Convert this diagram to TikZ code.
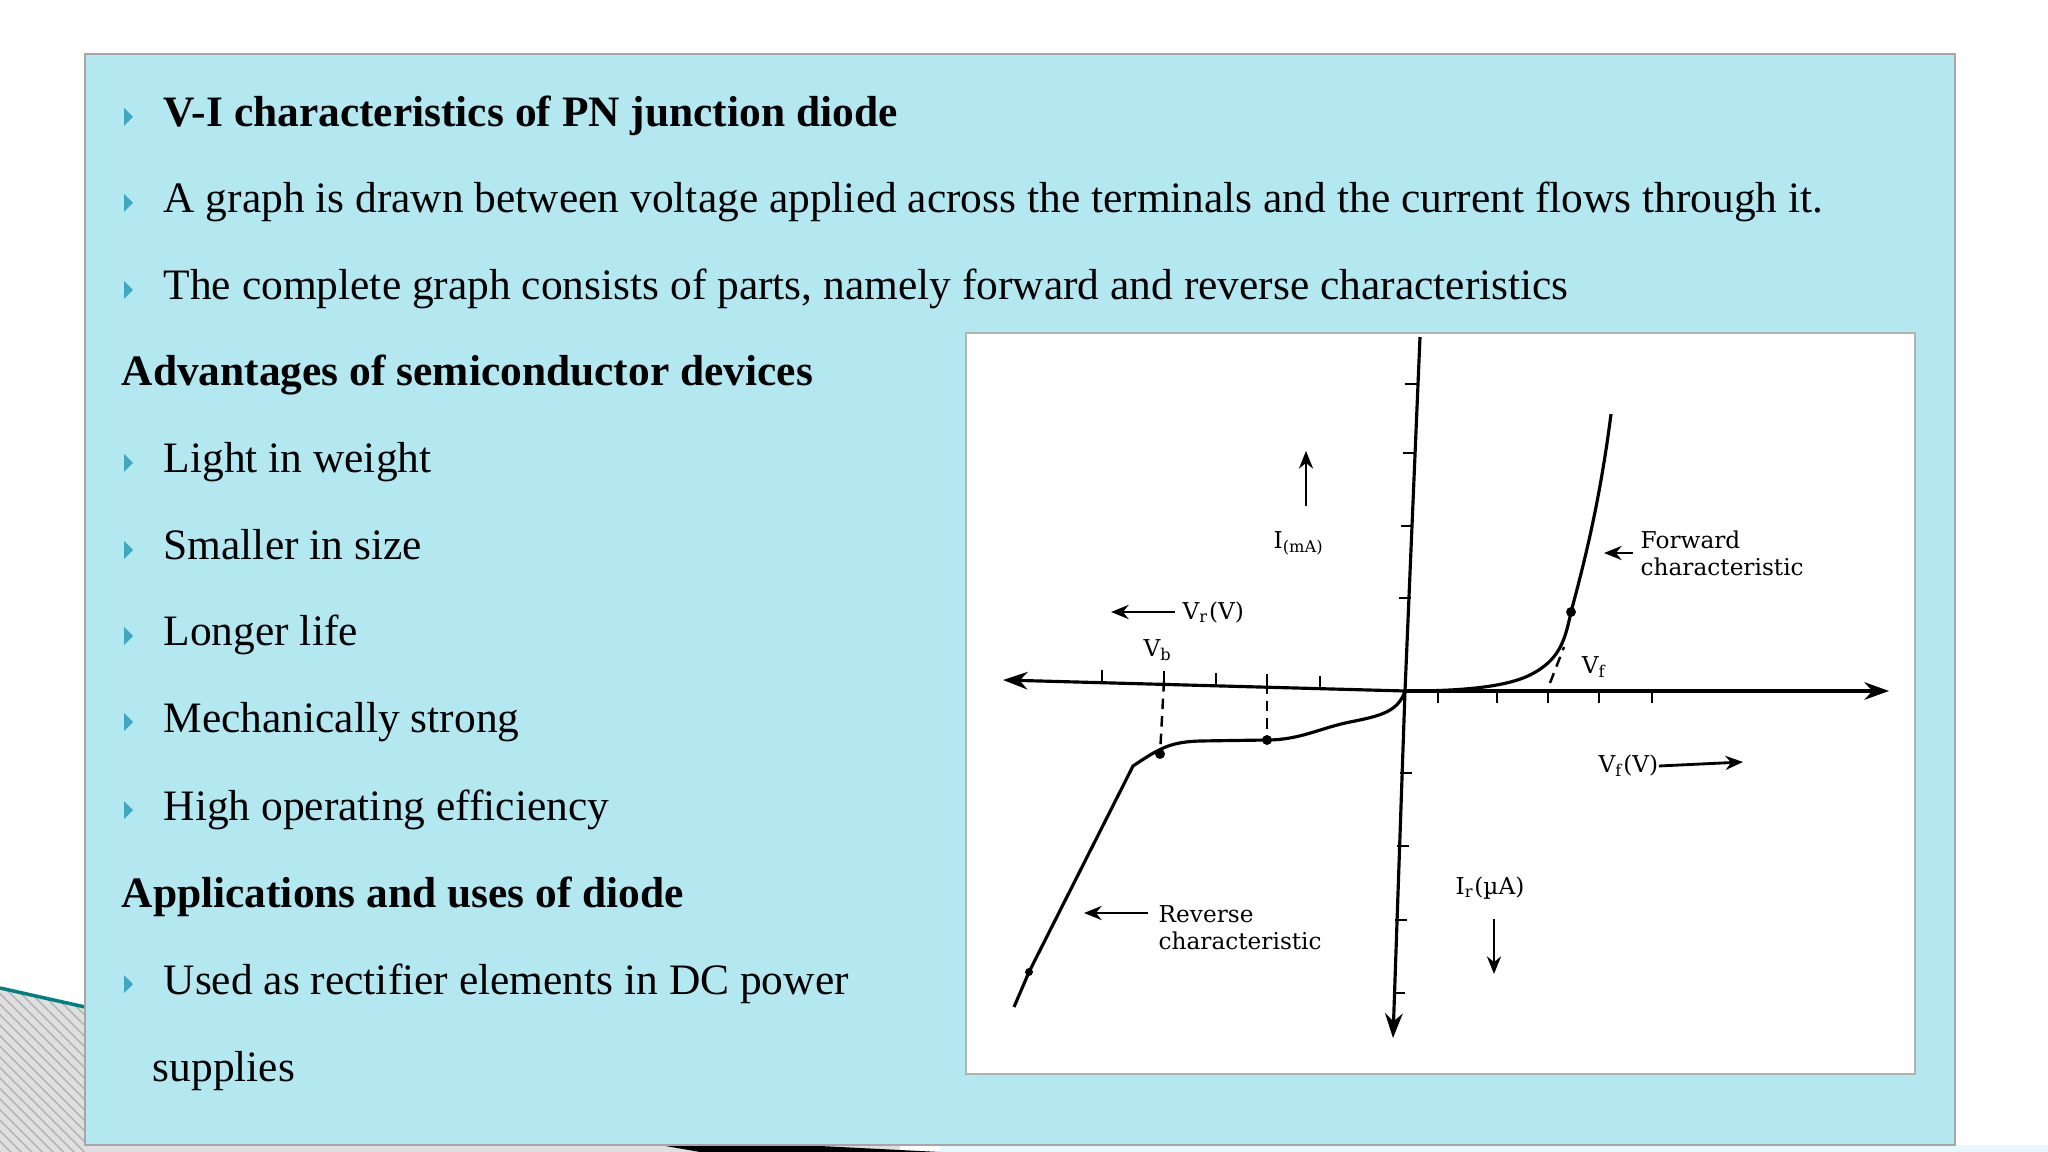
\documentclass[tikz,border=0pt]{standalone}
\usepackage{fontspec}
\setmainfont{Liberation Serif}
\newfontfamily\gfont{DejaVu Serif}
\usetikzlibrary{arrows.meta,patterns}
\definecolor{slidebg}{HTML}{B4E8F1}
\definecolor{bul}{HTML}{3FA7C0}
\tikzset{
 txt/.style={anchor=base west,inner sep=0pt,font=\fontsize{12.35pt}{14pt}\selectfont},
 htxt/.style={txt,font=\fontsize{12.35pt}{14pt}\selectfont\bfseries},
 glab/.style={inner sep=0pt,font=\gfont\fontsize{6.6pt}{7.6pt}\selectfont,align=left},
 axis/.style={line width=0.9pt,-{Stealth[length=7pt,width=5pt]}},
 tiny/.style={line width=0.8pt,-{Stealth[length=5pt,width=4pt]}},
 curve/.style={line width=0.9pt},
 dsh/.style={line width=0.7pt,dash pattern=on 3pt off 2pt},
 dotp/.style={circle,fill,inner sep=1pt},
}
\newcommand{\bul}[1]{\fill[bul] (124,#1-9) -- (133,#1) -- (124,#1+9) -- cycle;}
\begin{document}
\begin{tikzpicture}[x=0.01cm,y=-0.01cm]
\useasboundingbox (0,0) rectangle (2048,1152);
\fill[white] (0,0) rectangle (2048,1152);
% bottom decorations
\fill[gray!25] (0,988) -- (85,1007) -- (85,1152) -- (0,1152) -- cycle;
\fill[pattern=north west lines,pattern color=gray!60] (0,988) -- (85,1007) -- (85,1152) -- (0,1152) -- cycle;
\fill[gray!25] (85,1145) rectangle (900,1152);
\draw[teal,line width=1pt] (0,988) -- (85,1007);
\fill[black] (660,1145) -- (800,1145) -- (940,1152) -- (700,1152) -- cycle;
\fill[cyan!10] (940,1145) rectangle (2048,1152);
% main panel
\fill[slidebg,draw=gray!70] (85,54) rectangle (1955,1145);
% text
\bul{117}\node[htxt] (t1) at (163,127) {V-I characteristics of PN junction diode};
\bul{203}\node[txt] (t2) at (163,213) {A graph is drawn between voltage applied across the terminals and the current flows through it.};
\bul{290}\node[txt] (t3) at (163,300) {The complete graph consists of parts, namely forward and reverse characteristics};
\node[htxt] (h1) at (121,386) {Advantages of semiconductor devices};
\bul{463}\node[txt] (a1) at (163,473) {Light in weight};
\bul{550}\node[txt] (a2) at (163,560) {Smaller in size};
\bul{636}\node[txt] (a3) at (163,646) {Longer life};
\bul{722}\node[txt] (a4) at (163,732) {Mechanically strong};
\bul{810}\node[txt] (a5) at (163,820) {High operating efficiency};
\node[htxt] (h2) at (121,907) {Applications and uses of diode};
\bul{984}\node[txt] (u1) at (163,994) {Used as rectifier elements in DC power};
\node[txt] (u2) at (152,1081) {supplies};
% graph panel
\fill[white,draw=gray!60] (966,333) rectangle (1915,1074);
\coordinate (O) at (1405,691);
\coordinate (xl) at (1003,680);
\coordinate (xr) at (1889,691);
\coordinate (yt) at (1420,337);
\coordinate (yb) at (1393,1038);
\draw[axis] (O) -- (xr);
\draw[axis] (O) -- (xl);
\draw[line width=0.9pt] (O) -- (yt);
\draw[axis] (O) -- (yb);
% ticks
\foreach \y/\xx in {384/1417,453/1415,526/1413,598/1411}{\draw[line width=0.8pt] (\xx,\y) -- (\xx-12,\y);}
\foreach \y/\xx in {773/1400,846/1397,920/1395,993/1393}{\draw[line width=0.8pt] (\xx,\y) -- (\xx+12,\y);}
\foreach \x/\yy in {1102/682,1164/683,1216/685,1267/686,1320/688}{\draw[line width=0.8pt] (\x,\yy) -- (\x,\yy-12);}
\foreach \x in {1438,1497,1548,1599,1652}{\draw[line width=0.8pt] (\x,691) -- (\x,703);}
% forward curve
\draw[curve] (O) .. controls (1440,691) and (1500,690) .. (1530,675) .. controls (1560,660) and (1565,640) .. (1571,612) .. controls (1585,560) and (1600,500) .. (1611,414);
\node[dotp] (df) at (1571,612) {};
\draw[dsh] (1550,683) -- (1564,647);
% reverse curve
\draw[curve] (O) .. controls (1398,712) and (1380,716) .. (1350,722) .. controls (1320,728) and (1300,740) .. (1267,740) -- (1200,741) .. controls (1170,742) and (1160,748) .. (1133,766) -- (1029,972) -- (1014,1007);
\node[dotp] (d1) at (1267,740) {};
\node[dotp] (d2) at (1160,754) {};
\node[dotp,inner sep=0.8pt] (d3) at (1029,972) {};
\draw[dsh] (1164,681) -- (d2);
\draw[dsh] (1267,683) -- (d1);
% labels
\node[glab] (im) at (1299,543) {I\textsubscript{(mA)}};
\coordinate (ima) at (1306,506); \coordinate (imb) at (1306,451);
\draw[tiny] (ima) -- (imb);
\node[glab,anchor=west] (fw) at (1640,553) {Forward\\characteristic};
\coordinate (fwa) at (1604,553);
\draw[tiny] ([xshift=-2pt]fw.west) -- (fwa);
\node[glab,anchor=west] (vr) at (1182,612) {V\textsubscript{r}(V)};
\coordinate (vra) at (1111,612);
\draw[tiny] ([xshift=-2pt]vr.west) -- (vra);
\node[glab] (vb) at (1158,650) {V\textsubscript{b}};
\node[glab] (vf) at (1594,667) {V\textsubscript{f}};
\node[glab,anchor=west] (vfv) at (1598,766) {V\textsubscript{f}(V)};
\coordinate (vfa) at (1743,762);
\draw[tiny] (vfv.east) -- (vfa);
\node[glab] (ir) at (1490,888) {I\textsubscript{r}(µA)};
\coordinate (ira) at (1494,919); \coordinate (irb) at (1494,974);
\draw[tiny] (ira) -- (irb);
\node[glab,anchor=west] (rv) at (1158,928) {Reverse\\characteristic};
\coordinate (rva) at (1084,913);
\draw[tiny] (1148,913) -- (rva);
\end{tikzpicture}
\end{document}
